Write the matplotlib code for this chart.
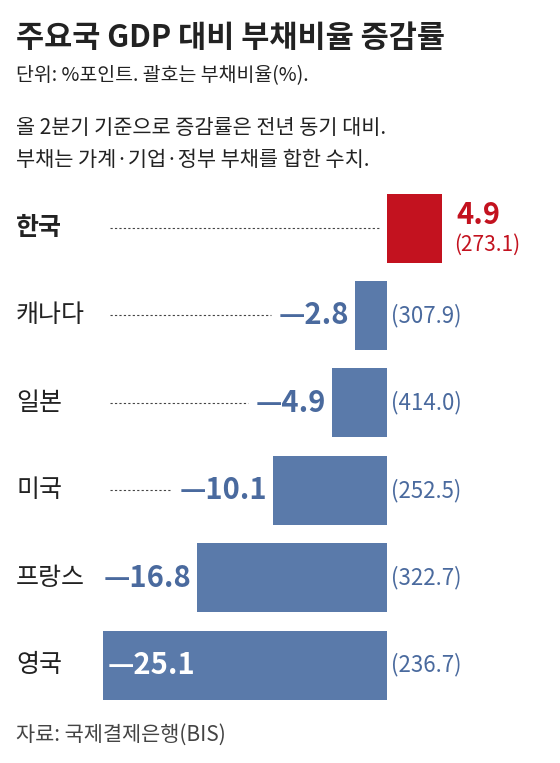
import matplotlib
matplotlib.use("Agg")
import matplotlib.pyplot as plt

plt.rcParams['font.family'] = ['Noto Sans CJK KR', 'DejaVu Sans']

countries = ["한국", "캐나다", "일본", "미국", "프랑스", "영국"]
changes = [4.9, -2.8, -4.9, -10.1, -16.8, -25.1]
ratios = [273.1, 307.9, 414.0, 252.5, 322.7, 236.7]

W, H = 560, 763
fig = plt.figure(figsize=(5.6, 7.63), dpi=100)
fig.patch.set_facecolor("white")
ax = fig.add_axes([0, 0, 1, 1])
scale = 11.3  # px per unit
x0 = 387
ax.set_xlim(-x0 / scale, (W - x0) / scale)
ax.set_ylim(H, 0)
ax.axis("off")

def px(x):
    return (x - x0) / scale

red = "#c3121f"
blue = "#5a7aaa"
dblue = "#4a6a9e"
txt = "#222222"

ax.text(px(16), 38, "주요국 GDP 대비 부채비율 증감률", fontsize=22, fontweight="bold",
        color=txt, va="center")
ax.text(px(16), 76, "단위: %포인트. 괄호는 부채비율(%).", fontsize=14, color=txt, va="center")
ax.text(px(16), 128, "올 2분기 기준으로 증감률은 전년 동기 대비.", fontsize=15, color=txt, va="center")
ax.text(px(16), 160, "부채는 가계·기업·정부 부채를 합한 수치.", fontsize=15, color=txt, va="center")
ax.text(px(16), 735, "자료: 국제결제은행(BIS)", fontsize=15, color="#444444", va="center")

y0, step, h = 228, 87.4, 69
for i, (c, v, r) in enumerate(zip(countries, changes, ratios)):
    y = y0 + i * step
    col = red if v > 0 else blue
    ax.barh(y, v, height=h, left=0, color=col)
    ax.text(px(16), y, c, fontsize=18, fontweight="bold" if v > 0 else "normal",
            color=txt, va="center")
    if v > 0:
        ax.plot([px(110), px(380)], [y, y], ls=(0, (2, 2)), color="#444", lw=0.8)
        ax.text(px(456), y - 13, f"{v:.1f}", fontsize=21, fontweight="bold", color=red, va="center")
        ax.text(px(454), y + 17, f"({r:.1f})", fontsize=15, color=red, va="center")
    else:
        ax.text(px(391), y, f"({r:.1f})", fontsize=16, color=dblue, va="center")
        label = "—" + f"{-v:.1f}"
        if i == len(countries) - 1:
            ax.text(px(108), y, label, fontsize=21, fontweight="bold",
                    color="white", va="center", ha="left")
        else:
            end = v - 6 / scale
            ax.text(end, y, label, fontsize=21, fontweight="bold", color=dblue,
                    va="center", ha="right")
            if i < 4:
                left_text = x0 + end * scale - (len(label) * 18.5) - 4
                ax.plot([px(110), px(left_text)], [y, y], ls=(0, (2, 2)), color="#444", lw=0.8)

fig.savefig("out.png", dpi=100)
